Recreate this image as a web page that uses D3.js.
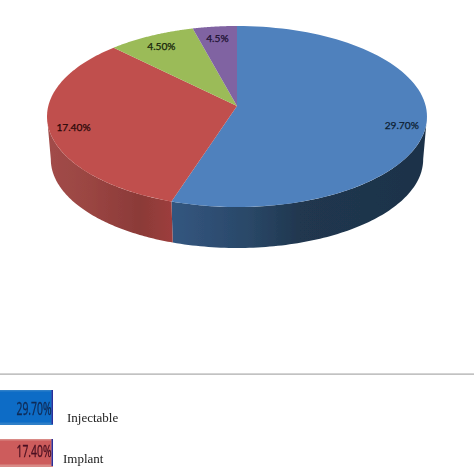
<!DOCTYPE html>
<html><head><meta charset="utf-8">
<script src="https://cdn.jsdelivr.net/npm/d3@7/dist/d3.min.js"></script>
<style>html,body{margin:0;padding:0;background:#fff}svg{display:block}</style>
</head><body><svg id="c" width="474" height="474" viewBox="0 0 474 474"></svg>
<script>
// Data
const sliceShares = [55, 32.5, 8.3, 4.2];           // drawn size of each slice
const sliceLabels = ["29.70%", "17.40%", "4.50%", "4.5%"];
const sliceColors = ["#4f81bd", "#c0504d", "#9bbb59", "#8064a2"];
const labelColors = ["#0d1f33", "#2a0808", "#16240a", "#1c1030"];
const legendValues = ["29.70%", "17.40%"];
const legendNames = ["Injectable", "Implant"];
const legendColors = ["#0b6cc6", "#cd5c5c"];
const legendInk = ["#0c2a55", "#4a1020"];

const svg = d3.select("#c");
const defs = svg.append("defs");
defs.append("filter").attr("id", "soft").append("feGaussianBlur").attr("stdDeviation", 0.35);

// Perspective projection of the pie disc
const k = 0.116;
const xScale = d3.scaleLinear().domain([-1, 1]).range([237 - 188.7, 237 + 188.7]);
const yScale = d3.scaleLinear().domain([-1, 1]).range([106 - 89.3, 106 + 89.3]);
function project(theta, r, shrink, drop) {
  const u = r * Math.sin(theta), v = -r * Math.cos(theta), w = 1 - k * v;
  return [
    237 + (xScale(u / w) - 237) * shrink,
    106 + (yScale(v / w) - 106) * shrink + drop
  ];
}
const samples = (a, b, n) => d3.range(0, n + 1).map(i => a + (b - a) * i / n);
const path = d3.line();

const arcs = d3.pie().sort(null)(sliceShares);
const pie = svg.append("g").attr("filter", "url(#soft)");

// Side walls: only the near part of the rim, between the two widest points
const nearStart = Math.acos(-k), nearEnd = 2 * Math.PI - nearStart;
function wallGradient(id, x1, x2, stops) {
  const g = defs.append("linearGradient").attr("id", id)
    .attr("gradientUnits", "userSpaceOnUse")
    .attr("x1", x1).attr("x2", x2).attr("y1", 0).attr("y2", 0);
  stops.forEach(s => g.append("stop").attr("offset", s[0]).attr("stop-color", s[1]));
}
wallGradient("wall0", 171, 427, [[0, "#335680"], [0.3, "#2a4868"], [0.5, "#20374f"], [1, "#1e3249"]]);
wallGradient("wall1", 47, 171, [[0, "#a24c49"], [0.35, "#9a4542"], [0.75, "#8b3a38"], [1, "#9c3e3c"]]);

arcs.slice(0, 2).forEach((a, i) => {
  const ts = samples(Math.max(a.startAngle, nearStart), Math.min(a.endAngle, nearEnd), 90);
  const top = ts.map(t => project(t, 1, 1, 0));
  const bottom = ts.map(t => project(t, 1, 0.98, 43)).reverse();
  pie.append("path").attr("d", path(top.concat(bottom)) + "Z")
    .attr("fill", `url(#wall${i})`);
});

// Top faces
arcs.forEach((a, i) => {
  const rim = samples(a.startAngle, a.endAngle, 90).map(t => project(t, 1, 1, 0));
  pie.append("path").attr("d", path([project(0, 0, 1, 0)].concat(rim)) + "Z")
    .attr("fill", sliceColors[i]);
});

// Slice labels
arcs.forEach((a, i) => {
  const p = project((a.startAngle + a.endAngle) / 2, 0.87, 1, 0);
  svg.append("text").attr("x", p[0]).attr("y", p[1] + (i === 0 ? 10.5 : 6))
    .attr("text-anchor", "middle").attr("font-family", "Lato")
    .attr("font-size", 10.2).attr("font-weight", 400)
    .attr("stroke", labelColors[i]).attr("stroke-width", 0.25)
    .attr("fill", labelColors[i]).text(sliceLabels[i]);
});

// Rule above the legend
svg.append("rect").attr("x", 0).attr("y", 373.5).attr("width", 474).attr("height", 1.2).attr("fill", "#a9a9a9");

// Legend
const boxY = d3.scaleOrdinal().domain(legendNames).range([390, 439]);
const boxH = d3.scaleOrdinal().domain(legendNames).range([35, 28]);
const nameX = d3.scaleOrdinal().domain(legendNames).range([67, 63]);
const nameY = d3.scaleOrdinal().domain(legendNames).range([422, 463]);
const valueY = d3.scaleOrdinal().domain(legendNames).range([415, 457]);
const valueSize = d3.scaleOrdinal().domain(legendNames).range([18.5, 15.5]);
const leg = svg.append("g").attr("filter", "url(#soft)");
legendNames.forEach((n, i) => {
  const y = boxY(n), h = boxH(n);
  leg.append("rect").attr("x", 0).attr("y", y).attr("width", 53).attr("height", h)
    .attr("fill", i === 0 ? "#2f7fc8" : "#d98a86");
  leg.append("rect").attr("x", 0).attr("y", y + 1.5).attr("width", 51).attr("height", h - 4)
    .attr("fill", legendColors[i]);
  leg.append("rect").attr("x", 51.5).attr("y", y).attr("width", 1.5).attr("height", h - 1)
    .attr("fill", "#2a2f9a");
  // Condensed value text: squeezed horizontally to fit inside the swatch
  const t = leg.append("text")
    .attr("font-family", "Open Sans").attr("font-size", valueSize(n))
    .attr("stroke", legendInk[i]).attr("stroke-width", 0.35)
    .attr("fill", legendInk[i]).text(legendValues[i]);
  const sx = 35 / t.node().getComputedTextLength();
  t.attr("transform", `translate(16.5,${valueY(n)}) scale(${sx},1)`);
  leg.append("text").attr("x", nameX(n)).attr("y", nameY(n))
    .attr("font-family", "Liberation Serif").attr("font-size", 13)
    .attr("fill", "#222").text(n);
});
</script></body></html>
